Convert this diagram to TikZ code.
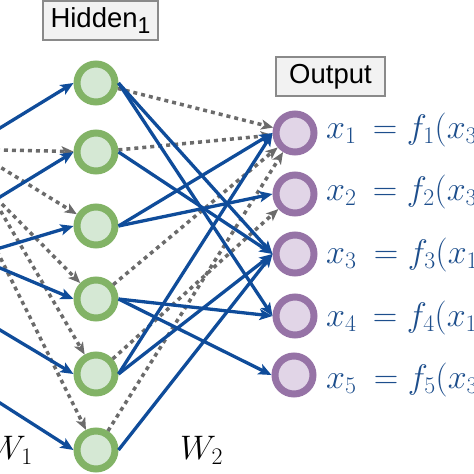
\RequirePackage{fix-cm}
\documentclass[tikz,border=0pt]{standalone}
\usepackage{fontspec}
\newfontfamily\lsans{Liberation Sans}
\usetikzlibrary{arrows.meta}
\definecolor{hgreen}{HTML}{82B366}
\definecolor{hgreenfill}{HTML}{D5E8D4}
\definecolor{opurple}{HTML}{9673A6}
\definecolor{opurplefill}{HTML}{E1D5E7}
\definecolor{wblue}{HTML}{0F4C9A}
\definecolor{lblue}{HTML}{1D4E8C}
\definecolor{dgray}{HTML}{6B6B6B}
\definecolor{boxgray}{HTML}{8A8A8A}
\definecolor{boxfill}{HTML}{F2F2F2}
\begin{document}
\begin{tikzpicture}[x=1pt,y=-1pt,
  hid/.style={circle,draw=hgreen,fill=hgreenfill,line width=7pt,minimum size=38pt,inner sep=0pt},
  outn/.style={circle,draw=opurple,fill=opurplefill,line width=7pt,minimum size=38pt,inner sep=0pt},
  wline/.style={draw=wblue,line width=3.3pt,-{Stealth[length=13pt,width=11pt,inset=3pt]}},
  zline/.style={draw=dgray,line width=3.5pt,dash pattern=on 4pt off 4pt,-{Stealth[length=12pt,width=10pt,inset=3pt]}},
  layerbox/.style={draw=boxgray,fill=boxfill,line width=1.2pt,inner sep=0pt,font=\lsans\fontsize{27.5}{30}\selectfont},
  eqlabel/.style={anchor=base west,inner sep=0pt,text=lblue,font=\fontsize{34}{38}\selectfont},
  wlabel/.style={inner sep=0pt,font=\fontsize{34}{38}\selectfont}
]
\useasboundingbox (0,0) rectangle (474,474);
\clip (0,0) rectangle (474,474);

% layer titles
\node[layerbox,minimum width=115pt,minimum height=39pt] (hbox) at (100.5,20.5) {Hidden\raisebox{-6.7pt}{\fontsize{23}{23}\selectfont 1}};
\node[layerbox,minimum width=109pt,minimum height=39pt] (obox) at (330.5,76.5) {Output};

% hidden nodes
\node[hid] (h1) at (96,83) {};
\node[hid] (h2) at (96,152) {};
\node[hid] (h3) at (96,226) {};
\node[hid] (h4) at (96,299) {};
\node[hid] (h5) at (96,374) {};
\node[hid] (h6) at (96,450) {};

% output nodes
\node[outn] (o1) at (295,133) {};
\node[outn] (o2) at (295,194) {};
\node[outn] (o3) at (295,254) {};
\node[outn] (o4) at (295,316) {};
\node[outn] (o5) at (294,375) {};

% equations
\node[eqlabel] (e1) at (326,138) {$x_1\hspace{7pt}= f_1(x_3$};
\node[eqlabel] (e2) at (326,200) {$x_2\hspace{7pt}= f_2(x_3$};
\node[eqlabel] (e3) at (326,263) {$x_3\hspace{8pt}= f_3(x_1$};
\node[eqlabel] (e4) at (326,326) {$x_4\hspace{7pt}= f_4(x_1$};
\node[eqlabel] (e5) at (326,388) {$x_5\hspace{8pt}= f_5(x_3$};

% weight labels
\node[wlabel,anchor=base east] (w1) at (33,459) {$W_1$};
\node[wlabel,anchor=base west] (w2) at (180,459) {$W_2$};

% free ends of the incoming (off-picture) connections
\coordinate (i1) at (-60,164.7);
\coordinate (i3) at (-60,233.7);
\coordinate (i5) at (-60,266);
\coordinate (i6) at (-60,242.7);
\coordinate (i7) at (-60,294.1);
\coordinate (i8) at (-60,364.6);
\coordinate (j2) at (-60,148.75);
\coordinate (j4) at (-60,130.1);
\coordinate (j9) at (-60,141.4);
\coordinate (j10) at (-60,107.5);
\coordinate (j11) at (-60,136.4);

% W1: masked (dotted)
\draw[zline] (j2) -- (h2);
\draw[zline] (j4) -- (h3);
\draw[zline] (j9) -- (h4);
\draw[zline] (j10) -- (h5);
\draw[zline] (j11) -- (h6);
% W1: active
\draw[wline] (i1) -- (h1.west);
\draw[wline] (i3) -- (h2.west);
\draw[wline] (i5) -- (h3.west);
\draw[wline] (i6) -- (h4.west);
\draw[wline] (i7) -- (h5.west);
\draw[wline] (i8) -- (h6.west);

% W2: masked (dotted)
\draw[zline] (h1) -- (o1);
\draw[zline] (h2) -- (o1);
\draw[zline] (h4) -- (o1);
\draw[zline] (h5) -- (o2);
\draw[zline] (h6) -- (o1);
% W2: active
\draw[wline] (h1.east) -- (o3.west);
\draw[wline] (h1.east) -- (o4.west);
\draw[wline] (h2.east) -- (o3.west);
\draw[wline] (h3.east) -- (o1.west);
\draw[wline] (h3.east) -- (o2.west);
\draw[wline] (h4.east) -- (o4.west);
\draw[wline] (h4.east) -- (o5.west);
\draw[wline] (h5.east) -- (o1.west);
\draw[wline] (h5.east) -- (o3.west);
\draw[wline] (h6.east) -- (o3.west);
\end{tikzpicture}
\end{document}
